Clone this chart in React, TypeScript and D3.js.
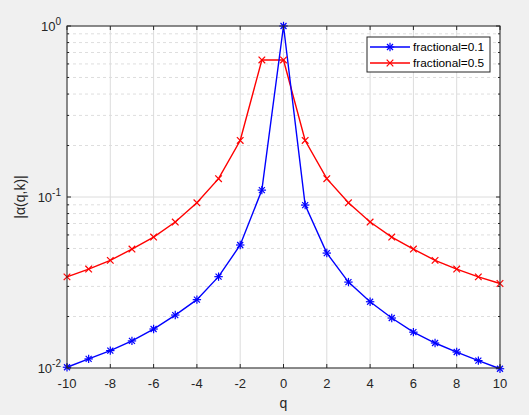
import React from "react";
import * as d3 from "d3";

const qValues = [-10, -9, -8, -7, -6, -5, -4, -3, -2, -1, 0, 1, 2, 3, 4, 5, 6, 7, 8, 9, 10];
const blueValues = [0.0101, 0.0113, 0.01264, 0.0144, 0.0169, 0.0204, 0.0251, 0.0342, 0.0524, 0.1097, 1.0, 0.0897, 0.047, 0.0318, 0.0244, 0.0196, 0.0162, 0.014, 0.0124, 0.01105, 0.0099];
const redValues = [0.0341, 0.0379, 0.0426, 0.0496, 0.0583, 0.0714, 0.0925, 0.128, 0.214, 0.633, 0.633, 0.214, 0.128, 0.0925, 0.0714, 0.0583, 0.0496, 0.0426, 0.0379, 0.0341, 0.0312];
const xTicks = [-10, -8, -6, -4, -2, 0, 2, 4, 6, 8, 10];
const yDecades = [-2, -1, 0];
const legendLabels = ["fractional=0.1", "fractional=0.5"];

const W = 529, H = 415;
const L = 67, R = 500, T = 26, B = 368;
const FONT = "'Liberation Sans', Arial, Helvetica, sans-serif";

export default function App() {
  const x = d3.scaleLinear().domain([-10, 10]).range([L, R]);
  const y = d3.scaleLog().domain([0.01, 1]).range([B, T]);
  const minor: number[] = [];
  for (const e of [-2, -1]) for (let k = 2; k <= 9; k++) minor.push(k * Math.pow(10, e));
  const line = d3.line<number>().x((_, i) => x(qValues[i])).y((v) => y(v));
  const axisColor = "#262626";

  const star = (cx: number, cy: number, c: string, key: string) => {
    const s = 4.2, d = 3;
    return (
      <g key={key} stroke={c} strokeWidth={1.2}>
        <line x1={cx - s} y1={cy} x2={cx + s} y2={cy} />
        <line x1={cx} y1={cy - s} x2={cx} y2={cy + s} />
        <line x1={cx - d} y1={cy - d} x2={cx + d} y2={cy + d} />
        <line x1={cx - d} y1={cy + d} x2={cx + d} y2={cy - d} />
      </g>
    );
  };
  const cross = (cx: number, cy: number, c: string, key: string) => {
    const d = 3.3;
    return (
      <g key={key} stroke={c} strokeWidth={1.2}>
        <line x1={cx - d} y1={cy - d} x2={cx + d} y2={cy + d} />
        <line x1={cx - d} y1={cy + d} x2={cx + d} y2={cy - d} />
      </g>
    );
  };

  return (
    <svg width={W} height={H} style={{ position: "absolute", left: 0, top: 0, display: "block" }}>
      <rect x={0} y={0} width={W} height={H} fill="#f0f0f0" />
      <rect x={L} y={T} width={R - L} height={B - T} fill="#ffffff" />
      {minor.map((v, i) => (
        <line key={"mg" + i} x1={L} x2={R} y1={y(v)} y2={y(v)} stroke="#dedede" strokeDasharray="3,3" strokeWidth={1} />
      ))}
      {xTicks.map((t) => (
        <line key={"gx" + t} x1={x(t)} x2={x(t)} y1={T} y2={B} stroke="#dcdcdc" strokeWidth={1} />
      ))}
      {yDecades.map((e) => (
        <line key={"gy" + e} x1={L} x2={R} y1={y(Math.pow(10, e))} y2={y(Math.pow(10, e))} stroke="#dcdcdc" strokeWidth={1} />
      ))}
      <path d={line(redValues) || ""} fill="none" stroke="#ff0000" strokeWidth={1.4} />
      <path d={line(blueValues) || ""} fill="none" stroke="#0000ff" strokeWidth={1.4} />
      {redValues.map((v, i) => cross(x(qValues[i]), y(v), "#ff0000", "r" + i))}
      {blueValues.map((v, i) => star(x(qValues[i]), y(v), "#0000ff", "b" + i))}
      <rect x={L} y={T} width={R - L} height={B - T} fill="none" stroke={axisColor} strokeWidth={1} />
      {xTicks.map((t) => (
        <g key={"tx" + t} stroke={axisColor}>
          <line x1={x(t)} x2={x(t)} y1={B} y2={B - 4} />
          <line x1={x(t)} x2={x(t)} y1={T} y2={T + 4} />
        </g>
      ))}
      {yDecades.map((e) => (
        <g key={"ty" + e} stroke={axisColor}>
          <line x1={L} x2={L + 4} y1={y(Math.pow(10, e))} y2={y(Math.pow(10, e))} />
          <line x1={R} x2={R - 4} y1={y(Math.pow(10, e))} y2={y(Math.pow(10, e))} />
        </g>
      ))}
      {minor.map((v, i) => (
        <g key={"tm" + i} stroke={axisColor}>
          <line x1={L} x2={L + 2} y1={y(v)} y2={y(v)} />
          <line x1={R} x2={R - 2} y1={y(v)} y2={y(v)} />
        </g>
      ))}
      {xTicks.map((t) => (
        <text key={"lx" + t} x={x(t)} y={388} fontSize={13} fontFamily={FONT} fill={axisColor} textAnchor="middle">
          {t < 0 ? "-" + Math.abs(t) : String(t)}
        </text>
      ))}
      {yDecades.map((e) => (
        <text key={"ly" + e} x={61} y={y(Math.pow(10, e)) + 5} fontSize={13} fontFamily={FONT} fill={axisColor} textAnchor="end">
          <tspan>10</tspan>
          <tspan dy={-6} fontSize={10}>{String(e)}</tspan>
        </text>
      ))}
      <text x={(L + R) / 2} y={408} fontSize={14} fontFamily={FONT} fill={axisColor} textAnchor="middle">q</text>
      <text transform={`translate(25,${(T + B) / 2}) rotate(-90)`} fontSize={14} fontFamily={FONT} fill={axisColor} textAnchor="middle">|α(q,k)|</text>
      <rect x={367} y={37} width={123} height={35} fill="#ffffff" stroke={axisColor} strokeWidth={1} />
      {legendLabels.map((lab, i) => {
        const ly = 47 + i * 16;
        const c = i === 0 ? "#0000ff" : "#ff0000";
        return (
          <g key={"lg" + i}>
            <line x1={370} x2={410} y1={ly} y2={ly} stroke={c} strokeWidth={1.4} />
            {i === 0 ? star(390, ly, c, "ls") : cross(390, ly, c, "lc")}
            <text x={413} y={ly + 4} fontSize={11.8} fontFamily={FONT} fill="#000">{lab}</text>
          </g>
        );
      })}
    </svg>
  );
}
